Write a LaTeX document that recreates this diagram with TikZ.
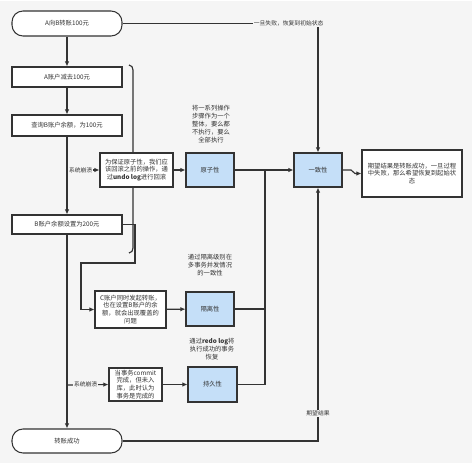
\documentclass[tikz,border=0pt]{standalone}
\usepackage{fontspec}
\setmainfont{Noto Sans CJK SC}
\usetikzlibrary{arrows.meta}
\definecolor{bg}{HTML}{F5F5F5}
\definecolor{bluefill}{HTML}{C5DFF8}
\definecolor{ink}{HTML}{333333}
\definecolor{txt}{HTML}{333333}
\begin{document}
\begin{tikzpicture}[x=1pt,y=-1pt,
 box/.style={draw=ink, line width=1.05pt, fill=white, align=center, inner sep=1pt, font=\fontsize{6.3}{7.9}\selectfont, text=txt},
 rbx/.style={box, rounded corners=11pt, minimum width=110pt},
 sbx/.style={box, minimum width=110pt},
 blue/.style={box, fill=bluefill, minimum width=48pt, minimum height=34pt},
 note/.style={align=center, inner sep=0pt, font=\fontsize{6.3}{7.9}\selectfont, text=txt},
 lbl/.style={fill=bg, inner sep=0.8pt, font=\fontsize{5.8}{6.7}\selectfont, text=txt},
 conn/.style={draw=ink, line width=1.15pt},
 arr/.style={conn, -{Latex[length=5pt,width=4.4pt]}},
]
\useasboundingbox (0,0) rectangle (474,465);
\fill[bg] (0,1.5) rectangle (472,463);

% bracket behind the description box
\draw[conn] (129,65) to[out=0,in=90] (133,70) -- (133,248) to[out=270,in=0] (129,253);

% left column
\node[rbx, minimum height=25pt] (start) at (67,23.5) {A向B转账100元};
\node[sbx, minimum height=20pt] (a) at (67,77) {A账户减去100元};
\node[sbx, minimum height=21pt] (q) at (67,125.5) {查询B账户余额，为100元};
\node[sbx, minimum height=19pt] (b) at (67,224.5) {B账户余额设置为200元};
\node[rbx, minimum height=24pt] (end) at (67,441) {转账成功};

% description boxes
\node[box, minimum width=73pt, minimum height=34pt] (ad) at (136.5,170) {为保证原子性，我们应\\该回滚之前的操作，通\\过\textbf{undo log}进行回滚};
\node[box, minimum width=71pt, minimum height=37pt] (cd) at (130.5,309.5) {C账户同时发起转账，\\也在设置B账户的余\\额，就会出现覆盖的\\问题};
\node[box, minimum width=53pt, minimum height=33pt] (dd) at (135.5,384.5) {当事务commit\\完成，但未入\\库，此时认为\\事务是完成的};

% properties
\node[blue] (atom) at (210,170) {原子性};
\node[blue] (iso) at (210,309) {隔离性};
\node[blue, minimum width=49pt, minimum height=35pt] (dur) at (212.5,384.5) {持久性};
\node[blue] (cons) at (318,170) {一致性};
\node[box, minimum width=100pt, minimum height=47pt] (rbox) at (412,173.5) {期望结果是转账成功，一旦过程\\中失败，那么希望恢复到起始状\\态};

% notes
\node[note] (atomtxt) at (211,124) {将一系列操作\\步骤作为一个\\整体，要么都\\不执行，要么\\全部执行};
\node[note] (isotxt) at (210,265) {通过隔离级别在\\多事务并发情况\\的一致性};
\node[note] (durtxt) at (212,349) {通过\textbf{redo log}将\\执行成功的事务\\恢复};

% main flow
\draw[arr] (start) -- (a);
\draw[arr] (a) -- (q);
\draw[arr] (q) -- (b);
\draw[arr] (b) -- (end);

% crash branches
\coordinate (c1) at (67,170);
\coordinate (c2) at (67,385);
\draw[arr] (c1) -- node[lbl, pos=0.42]{系统崩溃} (ad.west);
\draw[arr] (c2) -- node[lbl, pos=0.45]{系统崩溃} (dd.west);

% to properties
\draw[arr] (ad) -- (atom);
\draw[arr] (cd) -- (iso);
\draw[arr] (dd) -- (dur);
\draw[arr] (b.east) -- (135,224.5) -- (135,263) -- (81,263) -- (81,309.5) -- (cd.west);

% to consistency
\draw[arr] (atom) -- (cons);
\draw[conn] (iso.east) -- (265,309) -- (265,170);
\draw[conn] (dur.east) -- (265,384.5) -- (265,309);
\draw[arr] (start.east) -- node[lbl, pos=0.85]{一旦失败，恢复到初始状态} (318,23.5) -- (cons.north);
\draw[arr] (end.east) -- (318,441) -- node[lbl, pos=0.11]{期望结果} (cons.south);
\draw[arr] (cons.east) -- (351,170) to[out=0,in=180] (355,173.5) -- (rbox.west);
\end{tikzpicture}
\end{document}
